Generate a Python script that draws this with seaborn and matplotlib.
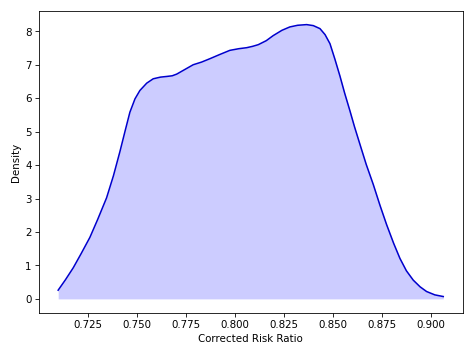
import matplotlib
matplotlib.use("Agg")
import matplotlib.pyplot as plt
import seaborn as sns
import pandas as pd

# Values
risk_ratio = [0.7098, 0.7135, 0.7175, 0.7215, 0.7260, 0.7300, 0.7345, 0.7380,
              0.7413, 0.7440, 0.7464, 0.7490, 0.7515, 0.7550, 0.7583, 0.7620,
              0.7652, 0.7680, 0.7703, 0.7745, 0.7787, 0.7830, 0.7872, 0.7920,
              0.7974, 0.8020, 0.8060, 0.8090, 0.8119, 0.8160, 0.8195, 0.8240,
              0.8280, 0.8320, 0.8366, 0.8400, 0.8434, 0.8460, 0.8485, 0.8510,
              0.8536, 0.8560, 0.8587, 0.8610, 0.8638, 0.8670, 0.8706, 0.8740,
              0.8774, 0.8810, 0.8842, 0.8875, 0.8910, 0.8945, 0.8978, 0.9020,
              0.9063]
density = [0.26, 0.57, 0.93, 1.35, 1.84, 2.38, 3.02, 3.68,
           4.40, 5.03, 5.58, 5.98, 6.23, 6.45, 6.58, 6.63,
           6.65, 6.67, 6.72, 6.86, 7.00, 7.08, 7.18, 7.30,
           7.43, 7.48, 7.51, 7.55, 7.60, 7.72, 7.87, 8.03,
           8.13, 8.18, 8.20, 8.17, 8.08, 7.90, 7.63, 7.17,
           6.66, 6.15, 5.62, 5.15, 4.62, 4.02, 3.42, 2.80,
           2.22, 1.66, 1.21, 0.84, 0.56, 0.36, 0.22, 0.12,
           0.07]
x_ticks = [0.725, 0.750, 0.775, 0.800, 0.825, 0.850, 0.875, 0.900]
y_ticks = [0, 1, 2, 3, 4, 5, 6, 7, 8]

df = pd.DataFrame({"Corrected Risk Ratio": risk_ratio, "Density": density})

fig, ax = plt.subplots(figsize=(6.4, 4.8), dpi=74)
sns.lineplot(data=df, x="Corrected Risk Ratio", y="Density", color="mediumblue",
             linewidth=1.5, ax=ax)
ax.fill_between(df["Corrected Risk Ratio"], 0, df["Density"], color="blue",
                alpha=0.2, linewidth=0)
ax.set_xticks(x_ticks)
ax.set_xticklabels([f"{t:.3f}" for t in x_ticks])
ax.set_yticks(y_ticks)
ax.set_xlabel("Corrected Risk Ratio")
ax.set_ylabel("Density")
fig.tight_layout()
fig.savefig("out.png", dpi=74)
